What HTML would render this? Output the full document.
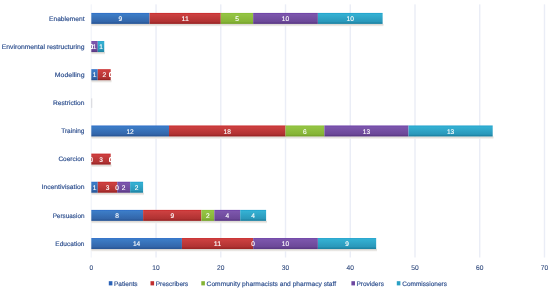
<!DOCTYPE html>
<html><head><meta charset="utf-8"><title>Chart</title><style>
html,body{margin:0;padding:0;background:#fff;}
body{width:550px;height:290px;overflow:hidden;}
svg{display:block;}
text{font-family:'Liberation Sans', sans-serif;text-rendering:geometricPrecision;}
.c{font-size:6.5px;fill:#2a4c8c;text-anchor:end;stroke:#2a4c8c;stroke-width:0.15px;}
.a{font-size:6.9px;fill:#364f80;text-anchor:middle;stroke:#364f80;stroke-width:0.12px;}
.lt{font-size:6.5px;fill:#2a4c8c;stroke:#2a4c8c;stroke-width:0.15px;}
.l{font-size:6.7px;fill:#fff;text-anchor:middle;stroke:#fff;stroke-width:0.12px;}
</style></head><body>
<svg width="550" height="290" viewBox="0 0 550 290">
<defs>

<linearGradient id="g0" x1="0" y1="0" x2="0" y2="1"><stop offset="0" stop-color="#2c6cc8"/><stop offset="0.14" stop-color="#3c7cc6"/><stop offset="0.8" stop-color="#3366aa"/><stop offset="0.92" stop-color="#2a5898"/><stop offset="1" stop-color="#2a5898"/></linearGradient>
<linearGradient id="g1" x1="0" y1="0" x2="0" y2="1"><stop offset="0" stop-color="#c8282a"/><stop offset="0.14" stop-color="#cc4040"/><stop offset="0.8" stop-color="#b03232"/><stop offset="0.92" stop-color="#9c2626"/><stop offset="1" stop-color="#9c2626"/></linearGradient>
<linearGradient id="g2" x1="0" y1="0" x2="0" y2="1"><stop offset="0" stop-color="#88bc34"/><stop offset="0.14" stop-color="#94c444"/><stop offset="0.8" stop-color="#86b436"/><stop offset="0.92" stop-color="#78a42c"/><stop offset="1" stop-color="#78a42c"/></linearGradient>
<linearGradient id="g3" x1="0" y1="0" x2="0" y2="1"><stop offset="0" stop-color="#6a3ea6"/><stop offset="0.14" stop-color="#7c56ac"/><stop offset="0.8" stop-color="#6c4898"/><stop offset="0.92" stop-color="#5c3a86"/><stop offset="1" stop-color="#5c3a86"/></linearGradient>
<linearGradient id="g4" x1="0" y1="0" x2="0" y2="1"><stop offset="0" stop-color="#1ea0cc"/><stop offset="0.14" stop-color="#34b0d2"/><stop offset="0.8" stop-color="#2a98ba"/><stop offset="0.92" stop-color="#1e84a4"/><stop offset="1" stop-color="#1e84a4"/></linearGradient>
<linearGradient id="sh" x1="0" y1="0" x2="0" y2="1"><stop offset="0" stop-color="#d6d2cc"/><stop offset="1" stop-color="#f5f4f2"/></linearGradient>
</defs>
<rect width="550" height="290" fill="#fff"/>
<rect x="90.60" y="4.35" width="1.4" height="253.15" fill="#f3f5fa"/>
<rect x="155.34" y="4.35" width="1.4" height="253.15" fill="#eaedf6"/>
<rect x="220.08" y="4.35" width="1.4" height="253.15" fill="#eaedf6"/>
<rect x="284.82" y="4.35" width="1.4" height="253.15" fill="#eaedf6"/>
<rect x="349.56" y="4.35" width="1.4" height="253.15" fill="#eaedf6"/>
<rect x="414.30" y="4.35" width="1.4" height="253.15" fill="#eaedf6"/>
<rect x="479.04" y="4.35" width="1.4" height="253.15" fill="#eaedf6"/>
<rect x="543.78" y="4.35" width="1.4" height="253.15" fill="#eaedf6"/>
<rect x="91.30" y="23.92" width="292.13" height="2.4" fill="url(#sh)"/>
<rect x="91.30" y="12.92" width="58.27" height="11.00" fill="url(#g0)"/>
<rect x="149.57" y="12.92" width="71.21" height="11.00" fill="url(#g1)"/>
<rect x="220.78" y="12.92" width="32.37" height="11.00" fill="url(#g2)"/>
<rect x="253.15" y="12.92" width="64.74" height="11.00" fill="url(#g3)"/>
<rect x="317.89" y="12.92" width="64.74" height="11.00" fill="url(#g4)"/>
<text class="l" x="120.43" y="21.12" textLength="3.67" lengthAdjust="spacingAndGlyphs">9</text>
<text class="l" x="185.17" y="21.12" textLength="7.35" lengthAdjust="spacingAndGlyphs">11</text>
<text class="l" x="236.96" y="21.12" textLength="3.67" lengthAdjust="spacingAndGlyphs">5</text>
<text class="l" x="285.52" y="21.12" textLength="7.35" lengthAdjust="spacingAndGlyphs">10</text>
<text class="l" x="350.26" y="21.12" textLength="7.35" lengthAdjust="spacingAndGlyphs">10</text>
<text class="c" x="84.5" y="20.52" textLength="35.47" lengthAdjust="spacingAndGlyphs">Enablement</text>
<rect x="91.30" y="52.06" width="13.75" height="2.4" fill="url(#sh)"/>
<rect x="91.30" y="41.06" width="6.47" height="11.00" fill="url(#g3)"/>
<rect x="97.77" y="41.06" width="6.47" height="11.00" fill="url(#g4)"/>
<text class="l" x="91.30" y="49.26" textLength="3.67" lengthAdjust="spacingAndGlyphs">0</text>
<text class="l" x="91.30" y="49.26" textLength="3.67" lengthAdjust="spacingAndGlyphs">0</text>
<text class="l" x="91.30" y="49.26" textLength="3.67" lengthAdjust="spacingAndGlyphs">0</text>
<text class="l" x="94.54" y="49.26" textLength="3.67" lengthAdjust="spacingAndGlyphs">1</text>
<text class="l" x="101.01" y="49.26" textLength="3.67" lengthAdjust="spacingAndGlyphs">1</text>
<text class="c" x="84.5" y="48.66" textLength="82.74" lengthAdjust="spacingAndGlyphs">Environmental restructuring</text>
<rect x="91.30" y="80.20" width="20.22" height="2.4" fill="url(#sh)"/>
<rect x="91.30" y="69.20" width="6.47" height="11.00" fill="url(#g0)"/>
<rect x="97.77" y="69.20" width="12.95" height="11.00" fill="url(#g1)"/>
<text class="l" x="94.54" y="77.40" textLength="3.67" lengthAdjust="spacingAndGlyphs">1</text>
<text class="l" x="104.25" y="77.40" textLength="3.67" lengthAdjust="spacingAndGlyphs">2</text>
<text class="l" x="110.72" y="77.40" textLength="3.67" lengthAdjust="spacingAndGlyphs">0</text>
<text class="l" x="110.72" y="77.40" textLength="3.67" lengthAdjust="spacingAndGlyphs">0</text>
<text class="l" x="110.72" y="77.40" textLength="3.67" lengthAdjust="spacingAndGlyphs">0</text>
<text class="c" x="84.5" y="76.80" textLength="29.65" lengthAdjust="spacingAndGlyphs">Modelling</text>
<rect x="91" y="98.34" width="1.3" height="9.5" fill="#dcdde2"/>
<text class="c" x="84.5" y="104.94" textLength="31.53" lengthAdjust="spacingAndGlyphs">Restriction</text>
<rect x="91.30" y="136.48" width="402.19" height="2.4" fill="url(#sh)"/>
<rect x="91.30" y="125.48" width="77.69" height="11.00" fill="url(#g0)"/>
<rect x="168.99" y="125.48" width="116.53" height="11.00" fill="url(#g1)"/>
<rect x="285.52" y="125.48" width="38.84" height="11.00" fill="url(#g2)"/>
<rect x="324.36" y="125.48" width="84.16" height="11.00" fill="url(#g3)"/>
<rect x="408.53" y="125.48" width="84.16" height="11.00" fill="url(#g4)"/>
<text class="l" x="130.14" y="133.68" textLength="7.35" lengthAdjust="spacingAndGlyphs">12</text>
<text class="l" x="227.25" y="133.68" textLength="7.35" lengthAdjust="spacingAndGlyphs">18</text>
<text class="l" x="304.94" y="133.68" textLength="3.67" lengthAdjust="spacingAndGlyphs">6</text>
<text class="l" x="366.44" y="133.68" textLength="7.35" lengthAdjust="spacingAndGlyphs">13</text>
<text class="l" x="450.61" y="133.68" textLength="7.35" lengthAdjust="spacingAndGlyphs">13</text>
<text class="c" x="84.5" y="133.08" textLength="23.29" lengthAdjust="spacingAndGlyphs">Training</text>
<rect x="91.30" y="164.62" width="20.22" height="2.4" fill="url(#sh)"/>
<rect x="91.30" y="153.62" width="19.42" height="11.00" fill="url(#g1)"/>
<text class="l" x="91.30" y="161.82" textLength="3.67" lengthAdjust="spacingAndGlyphs">0</text>
<text class="l" x="101.01" y="161.82" textLength="3.67" lengthAdjust="spacingAndGlyphs">3</text>
<text class="l" x="110.72" y="161.82" textLength="3.67" lengthAdjust="spacingAndGlyphs">0</text>
<text class="l" x="110.72" y="161.82" textLength="3.67" lengthAdjust="spacingAndGlyphs">0</text>
<text class="l" x="110.72" y="161.82" textLength="3.67" lengthAdjust="spacingAndGlyphs">0</text>
<text class="c" x="84.5" y="161.22" textLength="26.08" lengthAdjust="spacingAndGlyphs">Coercion</text>
<rect x="91.30" y="192.76" width="52.59" height="2.4" fill="url(#sh)"/>
<rect x="91.30" y="181.76" width="6.47" height="11.00" fill="url(#g0)"/>
<rect x="97.77" y="181.76" width="19.42" height="11.00" fill="url(#g1)"/>
<rect x="117.20" y="181.76" width="12.95" height="11.00" fill="url(#g3)"/>
<rect x="130.14" y="181.76" width="12.95" height="11.00" fill="url(#g4)"/>
<text class="l" x="94.54" y="189.96" textLength="3.67" lengthAdjust="spacingAndGlyphs">1</text>
<text class="l" x="107.48" y="189.96" textLength="3.67" lengthAdjust="spacingAndGlyphs">3</text>
<text class="l" x="117.20" y="189.96" textLength="3.67" lengthAdjust="spacingAndGlyphs">0</text>
<text class="l" x="123.67" y="189.96" textLength="3.67" lengthAdjust="spacingAndGlyphs">2</text>
<text class="l" x="136.62" y="189.96" textLength="3.67" lengthAdjust="spacingAndGlyphs">2</text>
<text class="c" x="84.5" y="189.36" textLength="42.94" lengthAdjust="spacingAndGlyphs">Incentivisation</text>
<rect x="91.30" y="220.90" width="175.60" height="2.4" fill="url(#sh)"/>
<rect x="91.30" y="209.90" width="51.79" height="11.00" fill="url(#g0)"/>
<rect x="143.09" y="209.90" width="58.27" height="11.00" fill="url(#g1)"/>
<rect x="201.36" y="209.90" width="12.95" height="11.00" fill="url(#g2)"/>
<rect x="214.31" y="209.90" width="25.90" height="11.00" fill="url(#g3)"/>
<rect x="240.20" y="209.90" width="25.90" height="11.00" fill="url(#g4)"/>
<text class="l" x="117.20" y="218.10" textLength="3.67" lengthAdjust="spacingAndGlyphs">8</text>
<text class="l" x="172.22" y="218.10" textLength="3.67" lengthAdjust="spacingAndGlyphs">9</text>
<text class="l" x="207.83" y="218.10" textLength="3.67" lengthAdjust="spacingAndGlyphs">2</text>
<text class="l" x="227.25" y="218.10" textLength="3.67" lengthAdjust="spacingAndGlyphs">4</text>
<text class="l" x="253.15" y="218.10" textLength="3.67" lengthAdjust="spacingAndGlyphs">4</text>
<text class="c" x="84.5" y="217.50" textLength="31.86" lengthAdjust="spacingAndGlyphs">Persuasion</text>
<rect x="91.30" y="249.04" width="285.66" height="2.4" fill="url(#sh)"/>
<rect x="91.30" y="238.04" width="90.64" height="11.00" fill="url(#g0)"/>
<rect x="181.94" y="238.04" width="71.21" height="11.00" fill="url(#g1)"/>
<rect x="253.15" y="238.04" width="64.74" height="11.00" fill="url(#g3)"/>
<rect x="317.89" y="238.04" width="58.27" height="11.00" fill="url(#g4)"/>
<text class="l" x="136.62" y="246.24" textLength="7.35" lengthAdjust="spacingAndGlyphs">14</text>
<text class="l" x="217.54" y="246.24" textLength="7.35" lengthAdjust="spacingAndGlyphs">11</text>
<text class="l" x="253.15" y="246.24" textLength="3.67" lengthAdjust="spacingAndGlyphs">0</text>
<text class="l" x="285.52" y="246.24" textLength="7.35" lengthAdjust="spacingAndGlyphs">10</text>
<text class="l" x="347.02" y="246.24" textLength="3.67" lengthAdjust="spacingAndGlyphs">9</text>
<text class="c" x="84.5" y="245.64" textLength="29.13" lengthAdjust="spacingAndGlyphs">Education</text>
<text class="a" x="91.30" y="269.6" textLength="3.67" lengthAdjust="spacingAndGlyphs">0</text>
<text class="a" x="156.04" y="269.6" textLength="7.35" lengthAdjust="spacingAndGlyphs">10</text>
<text class="a" x="220.78" y="269.6" textLength="7.35" lengthAdjust="spacingAndGlyphs">20</text>
<text class="a" x="285.52" y="269.6" textLength="7.35" lengthAdjust="spacingAndGlyphs">30</text>
<text class="a" x="350.26" y="269.6" textLength="7.35" lengthAdjust="spacingAndGlyphs">40</text>
<text class="a" x="415.00" y="269.6" textLength="7.35" lengthAdjust="spacingAndGlyphs">50</text>
<text class="a" x="479.74" y="269.6" textLength="7.35" lengthAdjust="spacingAndGlyphs">60</text>
<text class="a" x="544.48" y="269.6" textLength="7.35" lengthAdjust="spacingAndGlyphs">70</text>
<rect x="108.8" y="281.2" width="3.6" height="4.2" fill="#2a62b8"/>
<text class="lt" x="114.0" y="285.6" textLength="23.65" lengthAdjust="spacingAndGlyphs">Patients</text>
<rect x="150.5" y="281.2" width="3.6" height="4.2" fill="#c02e2e"/>
<text class="lt" x="155.8" y="285.6" textLength="32.53" lengthAdjust="spacingAndGlyphs">Prescribers</text>
<rect x="201.3" y="281.2" width="3.6" height="4.2" fill="#84b434"/>
<text class="lt" x="206.6" y="285.6" textLength="129.53" lengthAdjust="spacingAndGlyphs">Community pharmacists and pharmacy staff</text>
<rect x="351.4" y="281.2" width="3.6" height="4.2" fill="#6e48a0"/>
<text class="lt" x="356.4" y="285.6" textLength="27.54" lengthAdjust="spacingAndGlyphs">Providers</text>
<rect x="396.8" y="281.2" width="3.6" height="4.2" fill="#2aa0c4"/>
<text class="lt" x="402.2" y="285.6" textLength="44.75" lengthAdjust="spacingAndGlyphs">Commissioners</text>
</svg>
</body></html>
